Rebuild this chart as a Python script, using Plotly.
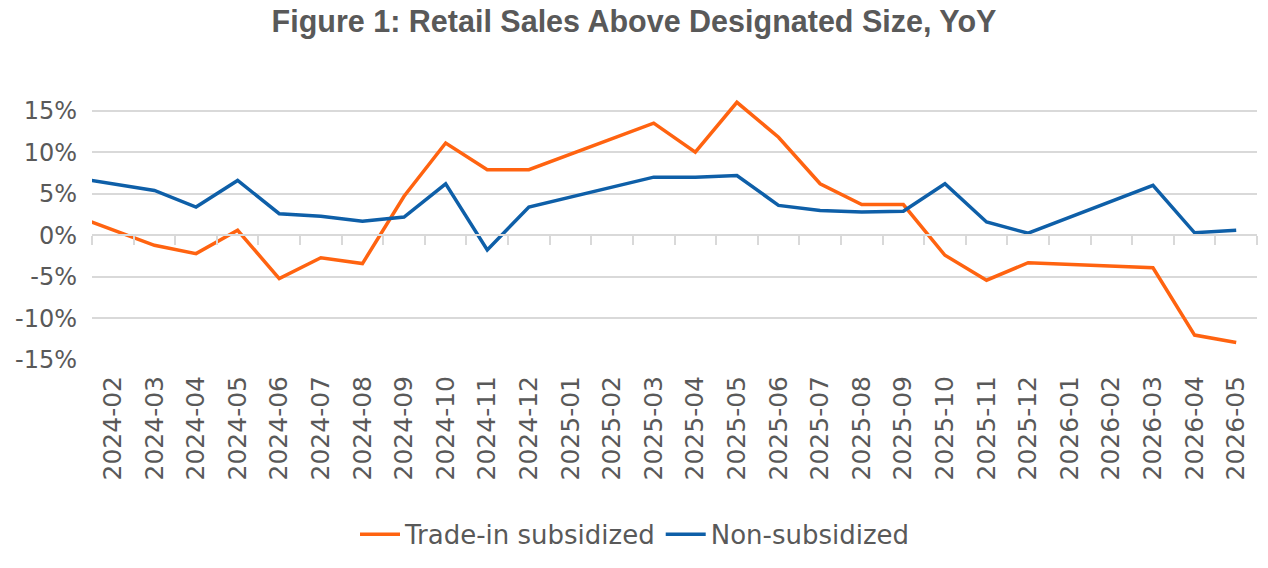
import plotly.graph_objects as go

categories = [
    "2024-01", "2024-02", "2024-03", "2024-04", "2024-05", "2024-06", "2024-07",
    "2024-08", "2024-09", "2024-10", "2024-11", "2024-12",
    "2025-01", "2025-02", "2025-03", "2025-04", "2025-05", "2025-06", "2025-07",
    "2025-08", "2025-09", "2025-10", "2025-11", "2025-12",
    "2026-01", "2026-02", "2026-03", "2026-04", "2026-05",
]
trade_in = [2.5, 0.7, -1.2, -2.2, 0.6, -5.2, -2.7, -3.4, 4.7, 11.1, 7.9, 7.9,
            None, None, 13.5, 10.0, 16.0, 11.8, 6.2, 3.7, 3.7, -2.4, -5.4, -3.3,
            None, None, -3.9, -12.0, -12.9]
non_sub = [7.0, 6.2, 5.4, 3.4, 6.6, 2.6, 2.3, 1.7, 2.2, 6.2, -1.75, 3.4,
           None, None, 7.0, 7.0, 7.2, 3.6, 3.0, 2.8, 2.9, 6.2, 1.6, 0.25,
           None, None, 6.0, 0.3, 0.6]
y_ticks = [-15, -10, -5, 0, 5, 10, 15]
y_tick_labels = ["-15%", "-10%", "-5%", "0%", "5%", "10%", "15%"]

ORANGE = "#FF6310"
BLUE = "#0E5FA8"
GRID = "#D9D9D9"
TEXT = "#595959"
FONT = "DejaVu Sans"

y_min, y_max = -15, 17

fig = go.Figure()
fig.add_trace(go.Scatter(x=categories, y=trade_in, name="Trade-in subsidized",
                         mode="lines", connectgaps=True,
                         line=dict(color=ORANGE, width=3.5)))
fig.add_trace(go.Scatter(x=categories, y=non_sub, name="Non-subsidized",
                         mode="lines", connectgaps=True,
                         line=dict(color=BLUE, width=3.5)))
# helper trace for the zero-line axis with tick marks
fig.add_trace(go.Scatter(x=categories, y=[None] * len(categories), xaxis="x2",
                         showlegend=False, hoverinfo="skip", mode="lines"))

x_range = [0.5, len(categories) - 0.5]

fig.update_layout(
    width=1268, height=568,
    margin=dict(l=92, r=11, t=94, b=206),
    paper_bgcolor="white", plot_bgcolor="white",
    font=dict(family=FONT, color=TEXT),
    title=dict(text="<b>Figure 1: Retail Sales Above Designated Size, YoY</b>",
               x=0.5, xanchor="center", y=1 - 21 / 568, yanchor="middle",
               font=dict(family="Liberation Sans", size=30.5, color=TEXT)),
    xaxis=dict(type="category", categoryorder="array", categoryarray=categories,
               range=x_range, showgrid=False, showline=False, ticks="",
               tickangle=-90, tickfont=dict(size=25, color=TEXT),
               ticklabelstandoff=10, zeroline=False),
    xaxis2=dict(type="category", categoryorder="array", categoryarray=categories,
                range=x_range, overlaying="x", anchor="free",
                position=(0 - y_min) / (y_max - y_min),
                showgrid=False, showline=True, linecolor=GRID, linewidth=1.5,
                ticks="outside", tickson="boundaries", ticklen=9,
                tickcolor=GRID, tickwidth=1.5, showticklabels=False),
    yaxis=dict(range=[y_min, y_max], tickvals=y_ticks, ticktext=y_tick_labels,
               showgrid=True, gridcolor=GRID, gridwidth=1.5, zeroline=False,
               showline=False, ticks="", tickfont=dict(size=24, color=TEXT),
               ticklabelstandoff=14),
    showlegend=True,
    legend=dict(orientation="h", x=(635 - 92) / 1165, xanchor="center", y=-0.655,
                yanchor="middle", font=dict(size=26, color=TEXT),
                itemwidth=40, traceorder="normal"),
)

fig.write_html("out.html")
